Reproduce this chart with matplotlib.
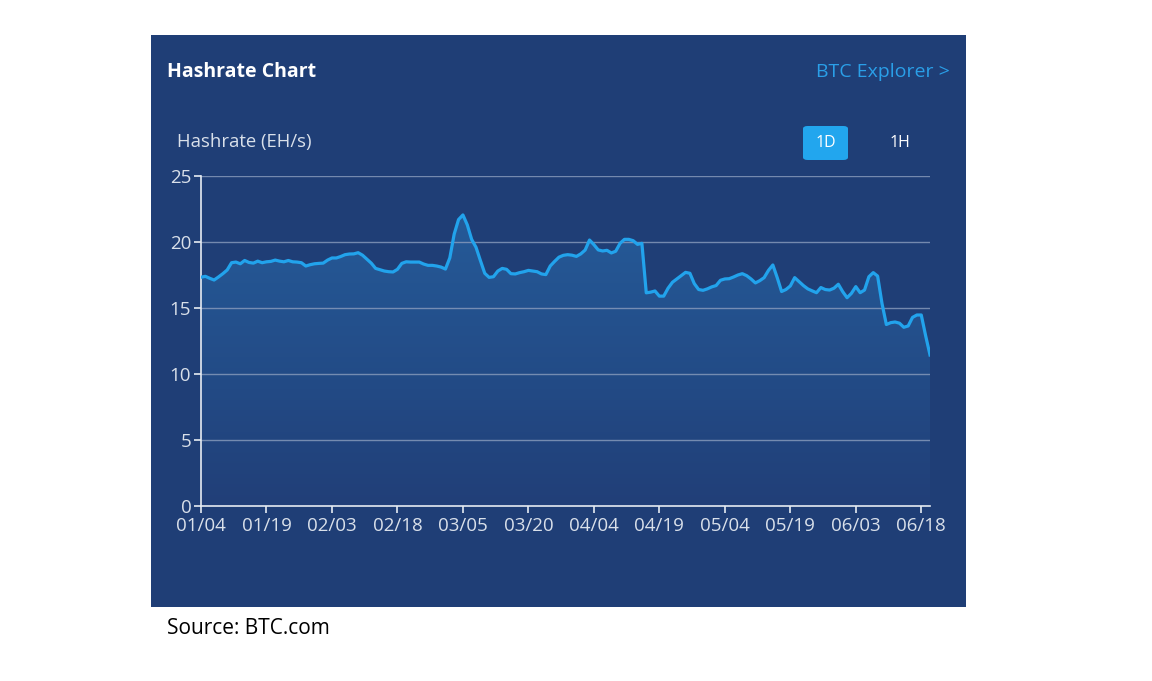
import numpy as np
import pandas as pd
import matplotlib
matplotlib.use("Agg")
import matplotlib.pyplot as plt
import matplotlib.patches as mpatches
from matplotlib.colors import LinearSegmentedColormap

# daily hashrate, 01/04 .. 06/20
hashrate = [
    17.33, 17.40, 17.25, 17.12, 17.35, 17.60, 17.88, 18.43, 18.48, 18.35,
    18.60, 18.45, 18.40, 18.55, 18.43, 18.50, 18.53, 18.63, 18.55, 18.50,
    18.60, 18.50, 18.48, 18.43, 18.18, 18.28, 18.35, 18.38, 18.40, 18.63,
    18.79, 18.79, 18.90, 19.04, 19.09, 19.10, 19.19, 19.00, 18.70, 18.40,
    18.00, 17.90, 17.80, 17.75, 17.73, 17.93, 18.38, 18.50, 18.48, 18.48,
    18.48, 18.33, 18.23, 18.23, 18.18, 18.10, 17.95, 18.80, 20.60, 21.70,
    22.05, 21.30, 20.20, 19.60, 18.60, 17.63, 17.32, 17.37, 17.80, 18.00,
    17.93, 17.60, 17.58, 17.68, 17.75, 17.85, 17.80, 17.75, 17.58, 17.53,
    18.18, 18.53, 18.85, 18.99, 19.04, 19.00, 18.91, 19.10, 19.39, 20.15,
    19.80, 19.40, 19.32, 19.37, 19.17, 19.30, 19.90, 20.20, 20.20, 20.10,
    19.82, 19.90, 16.15, 16.20, 16.29, 15.90, 15.90, 16.50, 16.95, 17.20,
    17.45, 17.70, 17.63, 16.85, 16.40, 16.34, 16.45, 16.60, 16.70, 17.10,
    17.20, 17.22, 17.35, 17.50, 17.60, 17.45, 17.20, 16.90, 17.07, 17.30,
    17.85, 18.26, 17.30, 16.25, 16.40, 16.67, 17.30, 17.00, 16.70, 16.45,
    16.30, 16.16, 16.55, 16.40, 16.36, 16.50, 16.80, 16.24, 15.78, 16.11,
    16.62, 16.16, 16.36, 17.37, 17.68, 17.42, 15.35, 13.75, 13.89, 13.94,
    13.85, 13.54, 13.64, 14.29, 14.47, 14.47, 12.90, 11.44,
]
dates = pd.date_range("2019-01-04", periods=len(hashrate), freq="D")
tick_dates = pd.date_range("2019-01-04", "2019-06-18", freq="15D")
y_ticks = [0, 5, 10, 15, 20, 25]

panel_color = "#1f3e76"
line_color = "#22a3ec"
text_color = "#d9e0ea"
fonts = ["Open Sans", "DejaVu Sans"]
plt.rcParams["font.family"] = fonts

fig = plt.figure(figsize=(11.52, 6.81), dpi=100)
fig.patch.set_facecolor("white")

W, H = 1152, 681
def fx(px):
    return px / W
def fy(py):
    return 1 - py / H

# dark panel behind everything
panel = mpatches.Rectangle((fx(151), fy(607)), fx(966) - fx(151), fy(35) - fy(607),
                           transform=fig.transFigure, facecolor=panel_color,
                           edgecolor="none", zorder=-5)
fig.patches.append(panel)

ax = fig.add_axes([fx(201), fy(506), fx(930) - fx(201), fy(176) - fy(506)])
ax.set_facecolor("none")
ax.set_zorder(2)

x = np.arange(len(hashrate))
poly = ax.fill_between(x, hashrate, 0, facecolor="none", edgecolor="none")
clip = mpatches.PathPatch(poly.get_paths()[0], transform=ax.transData,
                          facecolor="none", edgecolor="none")
ax.add_patch(clip)
cmap = LinearSegmentedColormap.from_list("fill", ["#213f78", "#255b99"])
grad = np.linspace(1, 0, 256).reshape(-1, 1)
im = ax.imshow(grad, extent=[0, len(hashrate) - 1, 0, 22.5], aspect="auto",
               cmap=cmap, origin="upper", zorder=1)
im.set_clip_path(clip)

ax.plot(x, hashrate, color=line_color, lw=2.3, zorder=3, solid_joinstyle="round")

ax.set_xlim(0, len(hashrate) - 1)
ax.set_ylim(0, 25)
ax.set_yticks(y_ticks)
ax.set_yticklabels([str(v) for v in y_ticks])
tick_pos = [(d - dates[0]).days for d in tick_dates]
ax.set_xticks(tick_pos)
ax.set_xticklabels([d.strftime("%m/%d") for d in tick_dates])

for v in y_ticks[1:]:
    ax.axhline(v, color="#8a9dbd", lw=1, alpha=0.8, zorder=2)

for side in ["top", "right"]:
    ax.spines[side].set_visible(False)
for side in ["left", "bottom"]:
    ax.spines[side].set_color("#e6ebf2")
    ax.spines[side].set_linewidth(1.2)
ax.tick_params(colors="#e6ebf2", labelcolor=text_color, labelsize=13.5,
               length=5, width=1.2)
ax.tick_params(axis="x", pad=3)
ax.tick_params(axis="y", pad=2)

# header texts
fig.text(fx(167), fy(72), "Hashrate Chart", color="white", fontsize=14,
         fontweight="bold", va="center", ha="left")
fig.text(fx(950), fy(72), "BTC Explorer >", color="#2a9fe8", fontsize=14,
         va="center", ha="right")
fig.text(fx(177), fy(142), "Hashrate (EH/s)", color=text_color, fontsize=13.3,
         va="center", ha="left")

btn = mpatches.FancyBboxPatch((fx(803), fy(160)), fx(848) - fx(803), fy(126) - fy(160),
                              boxstyle="round,pad=0,rounding_size=0.004",
                              transform=fig.transFigure, facecolor="#22a6ee",
                              edgecolor="none", zorder=2)
fig.patches.append(btn)
fig.text(fx(825.5), fy(143), "1D", color="white", fontsize=11.5,
         va="center", ha="center", zorder=3)
fig.text(fx(900), fy(143), "1H", color="white", fontsize=11.5,
         va="center", ha="center")

fig.text(fx(167), fy(628), "Source: BTC.com", color="black", fontsize=15,
         va="center", ha="left")

fig.savefig("out.png", dpi=100, facecolor=fig.get_facecolor())
